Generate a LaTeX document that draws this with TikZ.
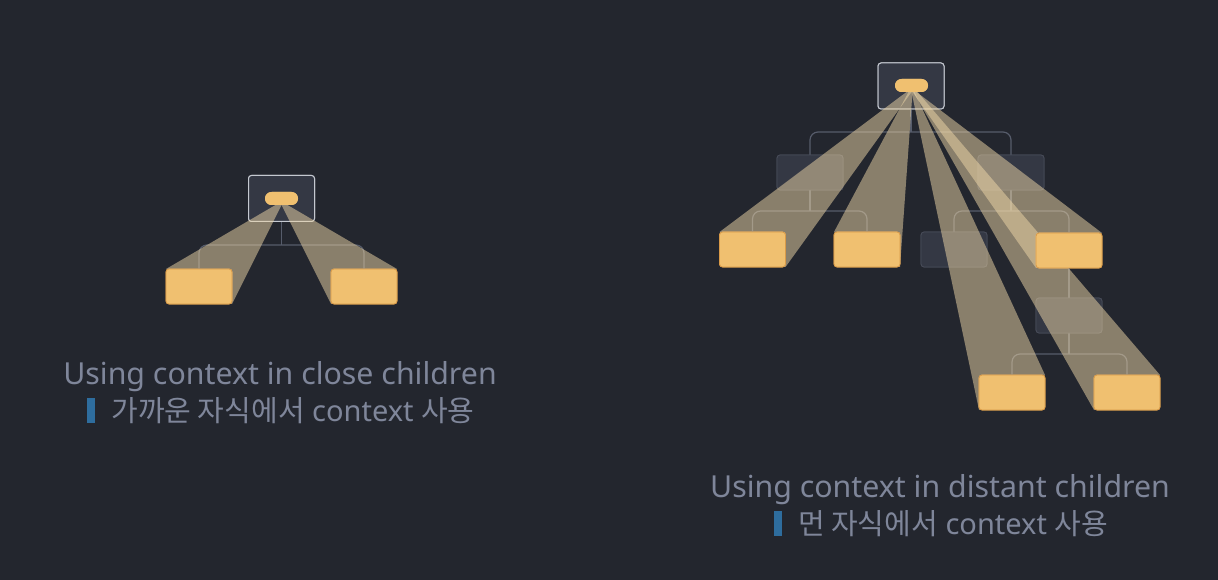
\documentclass[tikz,border=0pt]{standalone}
\usepackage{fontspec}
\setmainfont{Noto Sans}
\newfontfamily\kr{Noto Sans CJK KR}
\usetikzlibrary{calc}
\definecolor{bgc}{HTML}{23262E}
\definecolor{ghostfill}{HTML}{343844}
\definecolor{ghostline}{HTML}{474C59}
\definecolor{parentline}{HTML}{C4C8D0}
\definecolor{orange}{HTML}{F0C070}
\definecolor{orangeline}{HTML}{D99A48}
\definecolor{connc}{HTML}{565C6B}
\definecolor{beamc}{HTML}{F0D8A8}
\definecolor{txtc}{HTML}{7F869A}
\definecolor{barblue}{HTML}{2E6D9E}
\tikzset{
  box/.style={rectangle, rounded corners=3pt, inner sep=0pt, outer sep=0pt, minimum width=66pt, minimum height=35pt},
  leaf/.style={box, fill=orange, draw=orangeline, line width=0.8pt},
  ghost/.style={box, fill=ghostfill, draw=ghostline, line width=0.8pt},
  parentbox/.style={box, minimum width=66pt, minimum height=46pt, fill=ghostfill, draw=parentline, line width=1pt},
  pill/.style={rectangle, rounded corners=6.5pt, inner sep=0pt, outer sep=0pt, minimum width=33pt, minimum height=13pt, fill=orange},
  conn/.style={draw=connc, line width=1.2pt},
  beam/.style={fill=beamc, fill opacity=0.5},
  title/.style={text=txtc, font=\fontsize{30.3}{36}\selectfont, anchor=base, inner sep=0pt},
  sub/.style={text=txtc, font=\fontsize{29}{34}\selectfont, anchor=base, inner sep=0pt}
}
\begin{document}
\begin{tikzpicture}[x=1pt,y=-1pt]
\fill[bgc] (0,0) rectangle (1218,580);
\useasboundingbox (0,0) rectangle (1218,580);

% ---------- left diagram ----------
\node[parentbox] (P1) at (281.5,198.5) {};
\node[leaf] (C1a) at (199,286.5) {};
\node[leaf] (C1b) at (364,286.5) {};
\coordinate (j1) at (281.5,245);
\draw[conn] (P1.south) -- (j1);
\draw[conn, rounded corners=8pt] (C1a.north) |- (j1) -| (C1b.north);
\node[parentbox] at (281.5,198.5) {};
\node[pill] (pill1) at (281.5,198.5) {};
\fill[beam] ($(pill1.south)+(-6,0)$) -- (C1a.north west) -- (C1a.south east) -- ($(pill1.south)+(0,0)$) -- cycle;
\fill[beam] ($(pill1.south)+(0,0)$) -- (C1b.south west) -- (C1b.north east) -- ($(pill1.south)+(6,0)$) -- cycle;
\node[pill] at (281.5,198.5) {};
\node[leaf] at (199,286.5) {};
\node[leaf] at (364,286.5) {};

% ---------- right diagram ----------
\coordinate (j2) at (911,132);
\coordinate (j3) at (810,211);
\coordinate (j4) at (1011,211);
\coordinate (j5) at (1069,354);
\node[parentbox] (P2) at (911,86) {};
\node[ghost] (G1) at (810,172.5) {};
\node[ghost] (G2) at (1011,172.5) {};
\node[leaf] (L1) at (752.5,249.5) {};
\node[leaf] (L2) at (867,249.5) {};
\node[ghost] (G3) at (954,249.5) {};
\node[leaf] (R1) at (1069,250.5) {};
\node[ghost] (G4) at (1069,315.5) {};
\node[leaf] (L3) at (1012,392.5) {};
\node[leaf] (L4) at (1127,392.5) {};
\draw[conn] (P2.south) -- (j2);
\draw[conn, rounded corners=8pt] (G1.north) |- (j2) -| (G2.north);
\draw[conn] (G1.south) -- (j3);
\draw[conn, rounded corners=8pt] (L1.north) |- (j3) -| (L2.north);
\draw[conn] (G2.south) -- (j4);
\draw[conn, rounded corners=8pt] (G3.north) |- (j4) -| (R1.north);
\draw[conn] (R1.south) -- (G4.north);
\draw[conn] (G4.south) -- (j5);
\draw[conn, rounded corners=8pt] (L3.north) |- (j5) -| (L4.north);
\node[parentbox] at (911,86) {};
\node[ghost] at (810,172.5) {};
\node[ghost] at (1011,172.5) {};
\node[ghost] at (954,249.5) {};
\node[ghost] at (1069,315.5) {};
\node[pill] (pill2) at (911.5,85.5) {};
\fill[beam] ($(pill2.south)+(-5,0)$) -- (L1.north west) -- (L1.south east) -- ($(pill2.south)+(0,0)$) -- cycle;
\fill[beam] ($(pill2.south)+(-3,0)$) -- (L2.north west) -- (L2.south east) -- ($(pill2.south)+(1,0)$) -- cycle;
\fill[beam] ($(pill2.south)+(0,0)$) -- (L3.south west) -- (L3.north east) -- ($(pill2.south)+(3,0)$) -- cycle;
\fill[beam] ($(pill2.south)+(1,0)$) -- (R1.south west) -- (R1.north east) -- ($(pill2.south)+(5,0)$) -- cycle;
\fill[beam] ($(pill2.south)+(2,0)$) -- (L4.south west) -- (L4.north east) -- ($(pill2.south)+(6,0)$) -- cycle;
\node[pill] at (911.5,85.5) {};
\node[leaf] at (752.5,249.5) {};
\node[leaf] at (867,249.5) {};
\node[leaf] at (1069,250.5) {};
\node[leaf] at (1012,392.5) {};
\node[leaf] at (1127,392.5) {};

% ---------- texts ----------
\node[title] (t1) at (280,384) {Using context in close children};
\node[sub] (s1) at (281,421) {\textcolor{barblue}{\rule[-2pt]{8pt}{25pt}}\hspace{16pt}{\kr 가까운 자식에서} context {\kr 사용}};
\node[title] (t2) at (940,497) {Using context in distant children};
\node[sub] (s2) at (941,534) {\textcolor{barblue}{\rule[-2pt]{8pt}{25pt}}\hspace{16pt}{\kr 먼 자식에서} context {\kr 사용}};
\end{tikzpicture}
\end{document}
